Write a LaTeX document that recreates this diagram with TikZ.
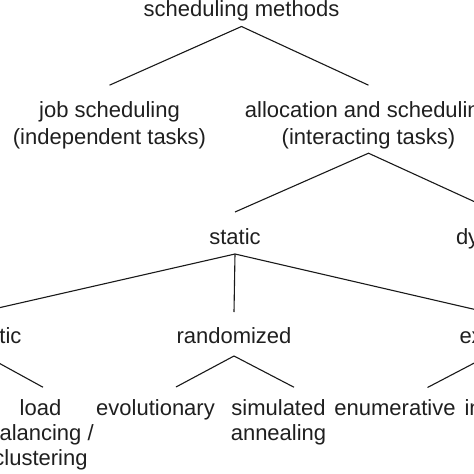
\documentclass[tikz,border=0pt]{standalone}
\usepackage{fontspec}
\setmainfont{Liberation Sans}
\begin{document}
\begin{tikzpicture}[x=1pt,y=1pt,
  lbl/.style={font=\fontsize{22}{27}\selectfont, inner sep=0pt, outer sep=0pt, align=center, text=black!88},
  lblb/.style={font=\fontsize{22}{25}\selectfont, inner sep=0pt, outer sep=0pt, align=center, text=black!88},
  one/.style={lbl, text height=16pt, text depth=5pt},
  edge/.style={draw=black!90, line width=1.1pt}]
\useasboundingbox (0,0) rectangle (474,-474);
\clip (0,0) rectangle (474,-474);
% level 0
\node[one, anchor=base] (root) at (241.5,-16.5) {scheduling methods};
% level 1
\node[lbl, anchor=north] (job) at (109.5,-101.2) {job scheduling\\(independent tasks)};
\node[lbl, anchor=north] (alloc) at (368.5,-101.2) {allocation and scheduling\\(interacting tasks)};
% level 2
\node[one, anchor=base] (static) at (235,-244) {static};
\node[one, anchor=base west] (dyn) at (456,-244) {dynamic};
% level 3
\node[one, anchor=base east] (heur) at (21.5,-343) {heuristic};
\node[one, anchor=base] (rand) at (234,-343) {randomized};
\node[one, anchor=base west] (exact) at (459.5,-343) {exact};
% level 4
\node[lblb, anchor=north] (load) at (40.5,-399.25) {load\\balancing /\\clustering};
\node[one, anchor=base] (evo) at (155.5,-415) {evolutionary};
\node[lblb, anchor=north] (sim) at (278.5,-399.25) {simulated\\annealing};
\node[one, anchor=base] (enum) at (395,-415) {enumerative};
\node[one, anchor=base west] (inn) at (464.5,-415) {in};
% connectors
\draw[edge] ([yshift=16pt]job.north) -- ([yshift=-5pt]root.south) -- ([yshift=16pt]alloc.north);
\draw[edge] ([yshift=16pt]static.north) -- ([yshift=-4.5pt]alloc.south) -- ([yshift=16pt]dyn.north);
\draw[edge] ([yshift=15pt]heur.north) -- ([yshift=-5pt]static.south) -- ([yshift=15pt]exact.north);
\draw[edge] ([yshift=-5pt]static.south) -- ([yshift=15pt]rand.north);
\draw[edge] ([xshift=20.5pt,yshift=12pt]evo.north) -- ([yshift=-8pt]rand.south) -- ([xshift=15.5pt,yshift=12pt]sim.north);
\draw[edge] ([yshift=-5pt]heur.south) -- ([xshift=2.5pt,yshift=12pt]load.north);
\draw[edge] ([yshift=-9pt]exact.south) -- ([xshift=32.5pt,yshift=11.5pt]enum.north);
\end{tikzpicture}
\end{document}
